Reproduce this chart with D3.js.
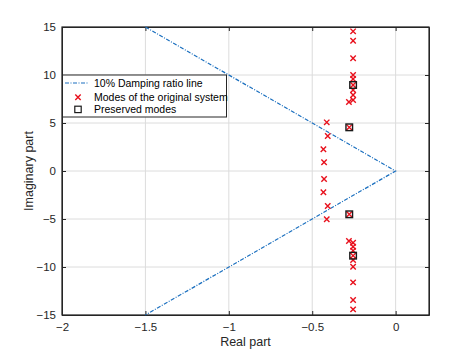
<!DOCTYPE html>
<html><head><meta charset="utf-8">
<script src="https://cdn.jsdelivr.net/npm/d3@7"></script>
<style>body{margin:0;background:#fff}svg{display:block}text{font-family:"Liberation Sans",Arial,sans-serif}</style>
</head><body><svg id="c" width="474" height="355"></svg>
<script>
const xTicks = [-2, -1.5, -1, -0.5, 0];
const yTicks = [-15, -10, -5, 0, 5, 10, 15];
const dampingLine = [[-1.5, 15], [0, 0], [-1.5, -15]];
const modesReal = [-0.255,-0.255,-0.255,-0.255,-0.255,-0.255,-0.255,-0.255,-0.255,-0.28,
  -0.413,-0.407,-0.433,-0.429,-0.429,-0.433,-0.407,-0.413,-0.278,-0.278,
  -0.28,-0.255,-0.255,-0.255,-0.255,-0.255,-0.255,-0.255,-0.255,-0.255];
const modesImag = [14.55,13.57,11.74,10.0,9.58,8.96,8.44,7.92,7.4,7.19,
  5.07,3.65,2.26,0.91,-0.83,-2.22,-3.65,-5.03,4.55,-4.51,
  -7.29,-7.47,-7.89,-8.3,-8.82,-9.27,-9.97,-11.6,-13.44,-14.41];
const preservedReal = [-0.255, -0.278, -0.278, -0.255];
const preservedImag = [8.96, 4.55, -4.51, -8.82];
const legendLabels = ["10% Damping ratio line", "Modes of the original system", "Preserved modes"];

const svg = d3.select("#c");
const L = 62, R = 429, T = 27, B = 315;
const x = d3.scaleLinear().domain([-2, 0.2]).range([L, R]);
const y = d3.scaleLinear().domain([-15, 15]).range([B, T]);
const axCol = "#262626";
const lineCol = "#1a6fbf";

// grid
const g = svg.append("g");
g.selectAll(".gx").data(xTicks).join("line").attr("x1", d=>x(d)).attr("x2", d=>x(d))
  .attr("y1", T).attr("y2", B).attr("stroke", "#dcdcdc").attr("stroke-width", 1);
g.selectAll(".gy").data(yTicks).join("line").attr("y1", d=>y(d)).attr("y2", d=>y(d))
  .attr("x1", L).attr("x2", R).attr("stroke", "#dcdcdc").attr("stroke-width", 1);

// axes
const xAx = svg.append("g").attr("transform", `translate(0,${B})`)
  .call(d3.axisBottom(x).tickValues(xTicks).tickSizeInner(-4).tickSizeOuter(0).tickPadding(8).tickFormat(d3.format("")));
const xAxT = svg.append("g").attr("transform", `translate(0,${T})`)
  .call(d3.axisTop(x).tickValues(xTicks).tickSizeInner(-4).tickSizeOuter(0).tickFormat(""));
const yAx = svg.append("g").attr("transform", `translate(${L},0)`)
  .call(d3.axisLeft(y).tickValues(yTicks).tickSizeInner(-4).tickSizeOuter(0).tickPadding(6).tickFormat(d3.format("")));
const yAxR = svg.append("g").attr("transform", `translate(${R},0)`)
  .call(d3.axisRight(y).tickValues(yTicks).tickSizeInner(-4).tickSizeOuter(0).tickFormat(""));
[xAx, xAxT, yAx, yAxR].forEach(a => {
  a.select(".domain").attr("stroke", axCol).attr("stroke-width", 1);
  a.selectAll(".tick line").attr("stroke", axCol);
  a.selectAll("text").attr("fill", axCol).attr("font-size", 11.5).style("font-family", '"Liberation Sans",Arial,sans-serif');
});
svg.append("rect").attr("x", L).attr("y", T).attr("width", R-L).attr("height", B-T)
  .attr("fill", "none").attr("stroke", axCol).attr("stroke-width", 1.2);

// damping line
const lineGen = d3.line().x(d=>x(d[0])).y(d=>y(d[1]));
svg.append("path").attr("d", lineGen(dampingLine)).attr("fill", "none")
  .attr("stroke", lineCol).attr("stroke-width", 1.2).attr("stroke-dasharray", "4,1.5,1,1.5");

function cross(sel, cx, cy, s) {
  sel.append("path").attr("d", `M${cx-s},${cy-s}L${cx+s},${cy+s}M${cx-s},${cy+s}L${cx+s},${cy-s}`)
    .attr("stroke", "#e8101c").attr("stroke-width", 1.4).attr("fill", "none");
}
const mk = svg.append("g");
modesReal.forEach((r, i) => cross(mk, x(r), y(modesImag[i]), 2.7));
preservedReal.forEach((r, i) => {
  mk.append("rect").attr("x", x(r)-3.3).attr("y", y(preservedImag[i])-3.3).attr("width", 6.6).attr("height", 6.6)
    .attr("fill", "none").attr("stroke", "#1a1a1a").attr("stroke-width", 1.4);
});

// legend
const lg = svg.append("g");
lg.append("rect").attr("x", 62.5).attr("y", 75).attr("width", 164).attr("height", 42)
  .attr("fill", "#fff").attr("stroke", axCol).attr("stroke-width", 1);
lg.append("line").attr("x1", 65).attr("x2", 89).attr("y1", 83).attr("y2", 83)
  .attr("stroke", lineCol).attr("stroke-width", 1.2).attr("stroke-dasharray", "4,1.5,1,1.5");
cross(lg, 78, 97.3, 2.7);
lg.append("rect").attr("x", 74.8).attr("y", 106.2).attr("width", 6.4).attr("height", 6.4)
  .attr("fill", "none").attr("stroke", "#1a1a1a").attr("stroke-width", 1.2);
legendLabels.forEach((t, i) => {
  lg.append("text").attr("x", 94).attr("y", [83, 97.3, 109.5][i]).attr("dy", "0.35em")
    .attr("font-size", 10.5).attr("fill", "#000").text(t);
});

// axis labels
svg.append("text").attr("x", (L+R)/2).attr("y", 346).attr("text-anchor", "middle")
  .attr("font-size", 12.5).attr("fill", axCol).text("Real part");
svg.append("text").attr("transform", `translate(33,${(T+B)/2}) rotate(-90)`).attr("text-anchor", "middle")
  .attr("font-size", 12.5).attr("fill", axCol).text("Imaginary part");
</script></body></html>
